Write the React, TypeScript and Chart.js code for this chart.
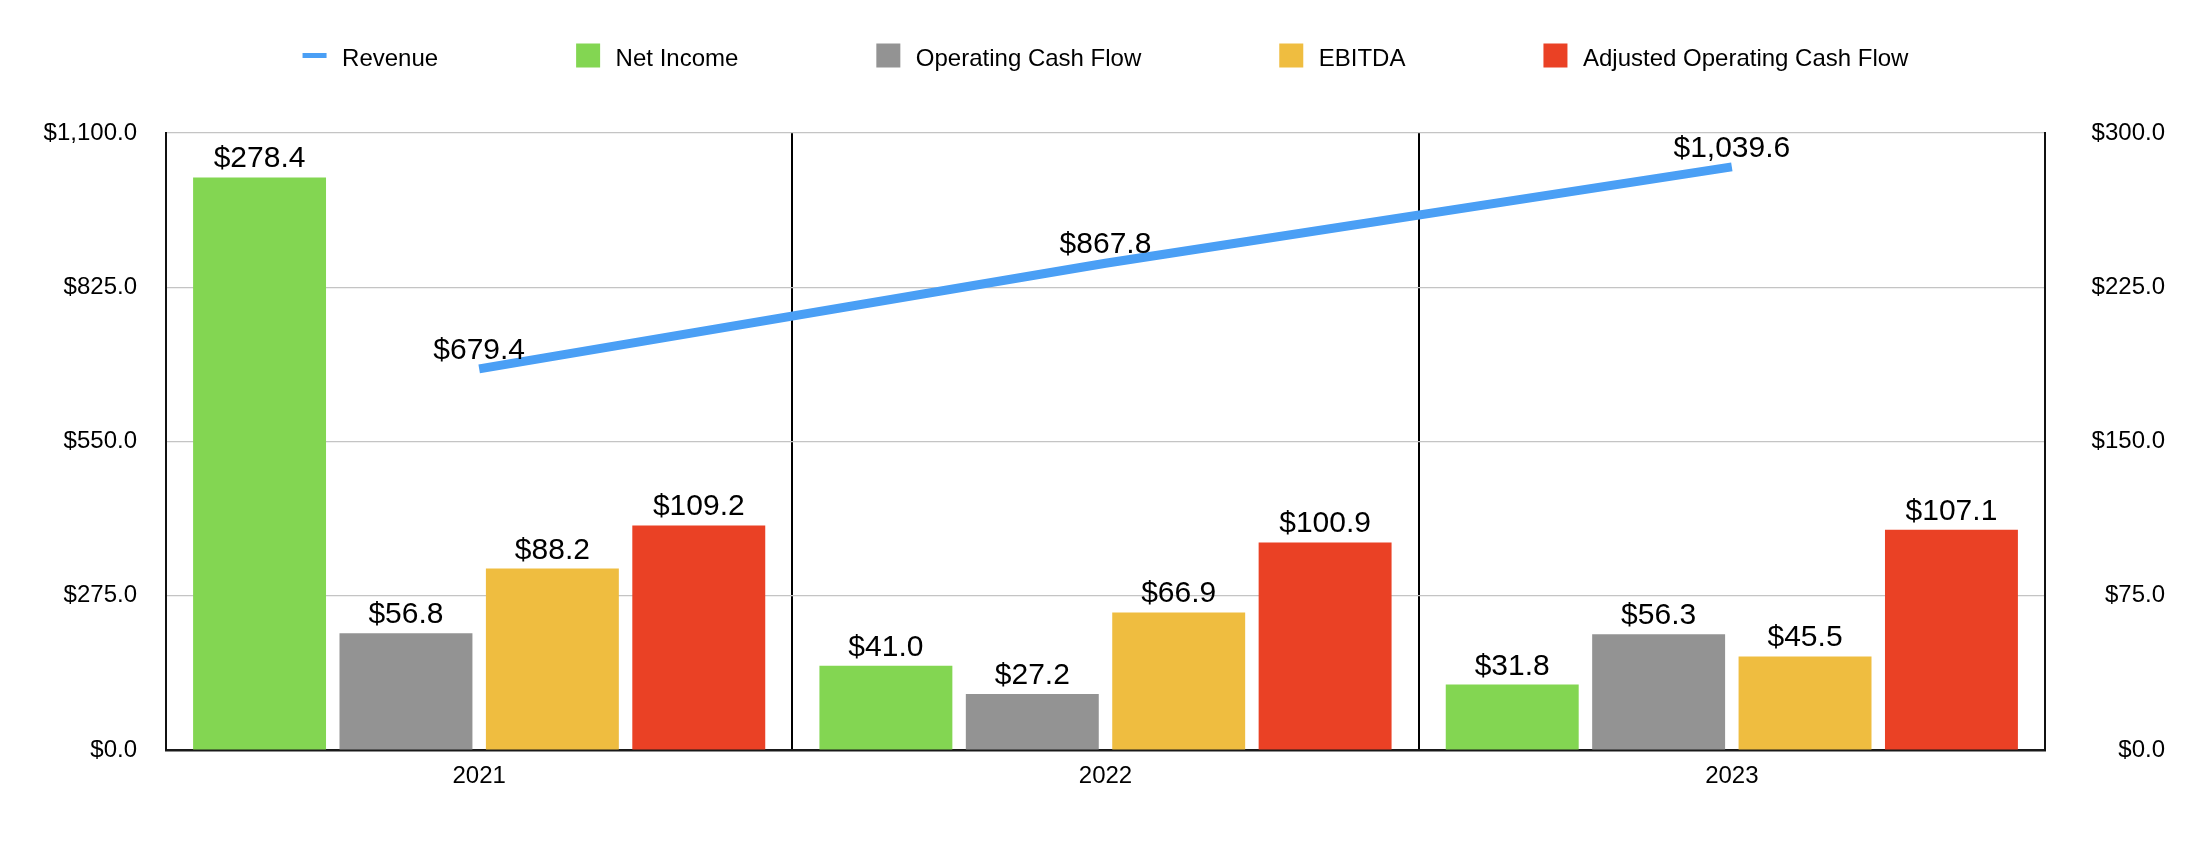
import React, { useEffect, useRef } from 'react';
import { Chart, registerables } from 'chart.js';

Chart.register(...registerables);

const FONT = '"Liberation Sans", Arial, Helvetica, sans-serif';

const years = ['2021', '2022', '2023'];
const revenue = [679.4, 867.8, 1039.6];
const netIncome = [278.4, 41.0, 31.8];
const operatingCashFlow = [56.8, 27.2, 56.3];
const ebitda = [88.2, 66.9, 45.5];
const adjustedOperatingCashFlow = [109.2, 100.9, 107.1];

// left axis (revenue) and right axis (bars)
const leftMax = 1100;
const leftStep = 275;
const rightMax = 300;
const rightStep = 75;

const money = (v: number) =>
  '$' + v.toLocaleString('en-US', { minimumFractionDigits: 1, maximumFractionDigits: 1 });

// value labels above each bar / line point
const valueLabels = {
  id: 'valueLabels',
  afterDatasetsDraw(chart: any) {
    const { ctx } = chart;
    ctx.save();
    ctx.font = `30px ${FONT}`;
    ctx.fillStyle = '#000';
    ctx.textAlign = 'center';
    ctx.textBaseline = 'alphabetic';
    chart.data.datasets.forEach((ds: any, i: number) => {
      const meta = chart.getDatasetMeta(i);
      meta.data.forEach((el: any, j: number) => {
        ctx.fillText(money(ds.data[j]), el.x, el.y - 10);
      });
    });
    ctx.restore();
  },
};

// legend row with wide spacing between entries
const legendRow = {
  id: 'legendRow',
  afterDraw(chart: any) {
    const { ctx, chartArea } = chart;
    ctx.save();
    ctx.font = `24px ${FONT}`;
    const items = chart.data.datasets.map((ds: any) => {
      const isLine = ds.type === 'line';
      return {
        text: ds.label,
        color: isLine ? ds.borderColor : ds.backgroundColor,
        isLine,
        w: 24 + 15.5 + ctx.measureText(ds.label).width,
      };
    });
    const gap = 138;
    const total = items.reduce((s: number, it: any) => s + it.w, 0) + gap * (items.length - 1);
    let x = (chartArea.left + chartArea.right) / 2 - total / 2;
    ctx.textAlign = 'left';
    ctx.textBaseline = 'alphabetic';
    items.forEach((it: any) => {
      ctx.fillStyle = it.color;
      if (it.isLine) ctx.fillRect(x, 53, 24, 5);
      else ctx.fillRect(x, 43.5, 24, 24);
      ctx.fillStyle = '#000';
      ctx.fillText(it.text, x + 24 + 15.5, 65.5);
      x += it.w + gap;
    });
    ctx.restore();
  },
};

export default function App() {
  const canvasRef = useRef<HTMLCanvasElement | null>(null);
  const chartRef = useRef<Chart | null>(null);

  useEffect(() => {
    document.body.style.margin = '0';
    if (chartRef.current) {
      chartRef.current.destroy();
    }
    if (canvasRef.current) {
      const tickFont = { family: FONT, size: 24 };
      chartRef.current = new Chart(canvasRef.current, {
        type: 'bar',
        data: {
          labels: years,
          datasets: [
            {
              type: 'line',
              label: 'Revenue',
              data: revenue,
              yAxisID: 'y',
              borderColor: '#4A9FF5',
              backgroundColor: '#4A9FF5',
              borderWidth: 9,
              borderCapStyle: 'butt',
              pointRadius: 0,
              tension: 0,
            },
            {
              label: 'Net Income',
              data: netIncome,
              yAxisID: 'y1',
              backgroundColor: '#83D652',
            },
            {
              label: 'Operating Cash Flow',
              data: operatingCashFlow,
              yAxisID: 'y1',
              backgroundColor: '#939393',
            },
            {
              label: 'EBITDA',
              data: ebitda,
              yAxisID: 'y1',
              backgroundColor: '#EFBD40',
            },
            {
              label: 'Adjusted Operating Cash Flow',
              data: adjustedOperatingCashFlow,
              yAxisID: 'y1',
              backgroundColor: '#EA4125',
            },
          ] as any,
        },
        options: {
          animation: false,
          responsive: true,
          maintainAspectRatio: false,
          layout: { padding: { top: 133, left: 36, right: 39, bottom: 48 } },
          datasets: {
            bar: { categoryPercentage: 0.935, barPercentage: 0.908, borderWidth: 0 },
          },
          plugins: {
            legend: { display: false },
            tooltip: { enabled: false },
          },
          scales: {
            x: {
              offset: true,
              grid: { offset: true, color: '#000', lineWidth: 2, drawTicks: false },
              border: { display: true, color: '#1a1a1a', width: 2.5 },
              ticks: { font: tickFont, color: '#000', padding: 12 },
              afterFit: (scale: any) => {
                scale.height = 60;
              },
            },
            y: {
              position: 'left',
              min: 0,
              max: leftMax,
              grid: { color: '#c4c4c4', lineWidth: 1.2, drawTicks: false },
              border: { display: true, color: '#111', width: 2 },
              ticks: {
                stepSize: leftStep,
                font: tickFont,
                color: '#000',
                padding: 29,
                callback: (v: any) => money(Number(v)),
              },
              afterFit: (scale: any) => {
                scale.width = 130;
              },
            },
            y1: {
              position: 'right',
              min: 0,
              max: rightMax,
              grid: { drawOnChartArea: false, drawTicks: false },
              border: { display: true, color: '#111', width: 2 },
              ticks: {
                stepSize: rightStep,
                font: tickFont,
                color: '#000',
                padding: 32,
                crossAlign: 'far',
                callback: (v: any) => money(Number(v)),
              },
              afterFit: (scale: any) => {
                scale.width = 120;
              },
            },
          },
        } as any,
        plugins: [valueLabels, legendRow],
      });
    }
    return () => {
      if (chartRef.current) {
        chartRef.current.destroy();
        chartRef.current = null;
      }
    };
  }, []);

  return (
    <div style={{ position: 'relative', width: 2204, height: 858 }}>
      <canvas ref={canvasRef} />
    </div>
  );
}
